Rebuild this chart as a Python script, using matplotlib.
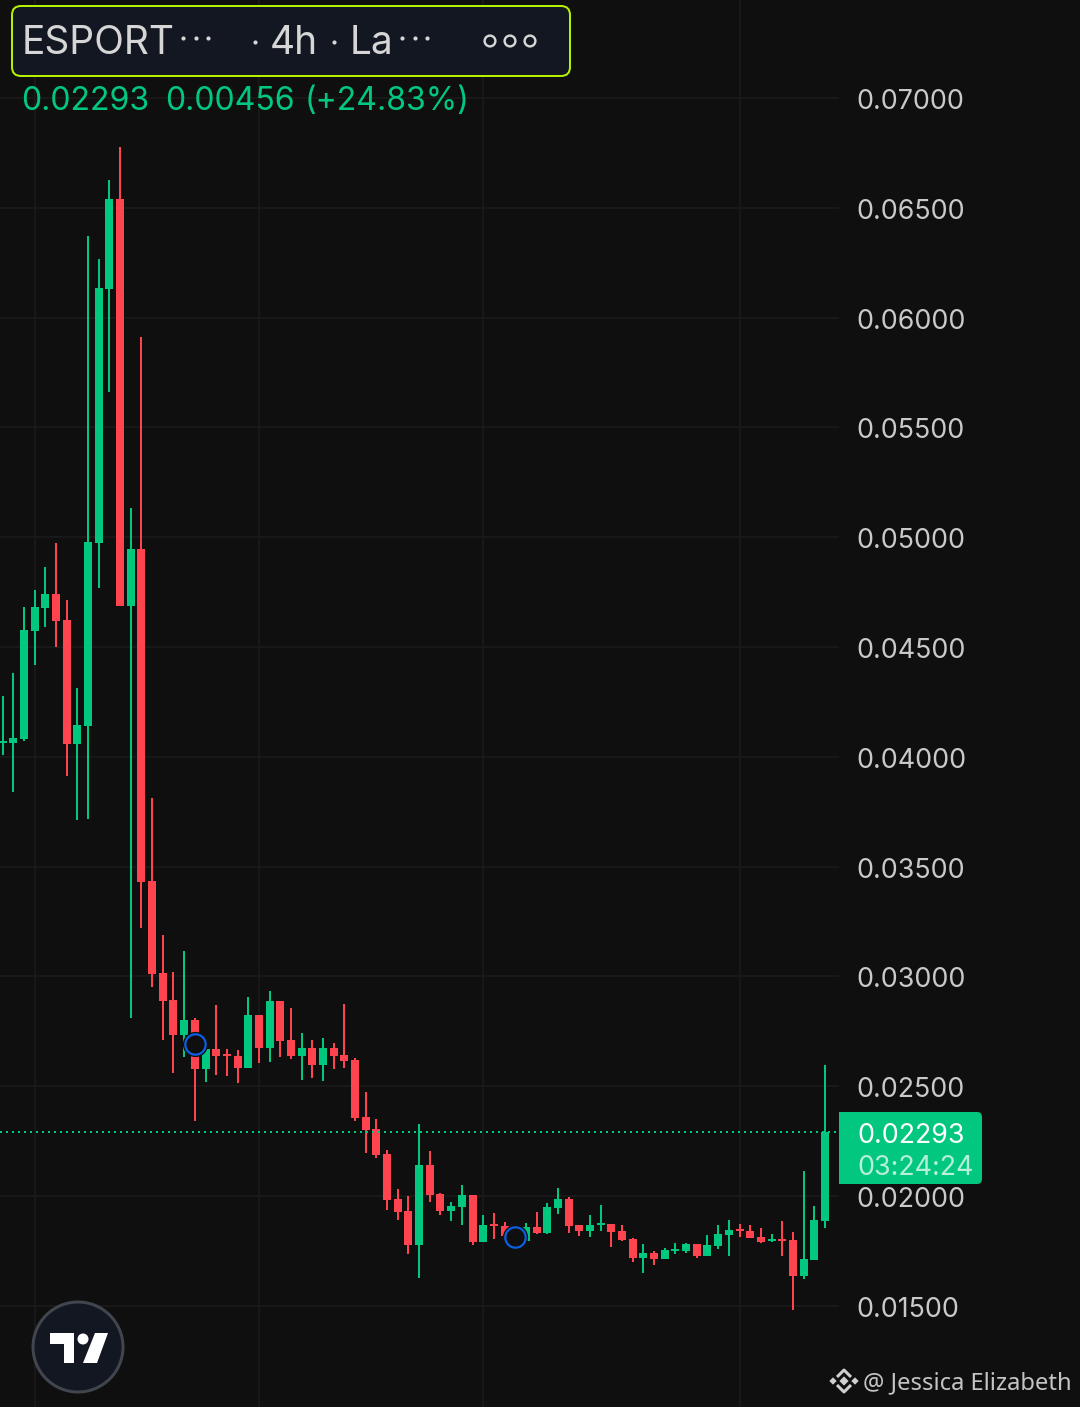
import matplotlib
matplotlib.use("Agg")
import matplotlib.pyplot as plt
from matplotlib.patches import FancyBboxPatch, Circle, Polygon, Rectangle

# candles, left to right
opens = [0.04063, 0.04063, 0.04081, 0.04573, 0.04677, 0.04741, 0.04623, 0.04058, 0.04140, 0.04973,
         0.06130, 0.06540, 0.04687, 0.04946, 0.03434, 0.03015, 0.02892, 0.02733, 0.02801, 0.02578,
         0.02669, 0.02646, 0.02637, 0.02582, 0.02824, 0.02673, 0.02887, 0.02710, 0.02637, 0.02673,
         0.02596, 0.02673, 0.02642, 0.02619, 0.02359, 0.02305, 0.02191, 0.01986, 0.01931, 0.01776,
         0.02141, 0.02009, 0.01931, 0.01949, 0.02004, 0.01790, 0.01872, 0.01863, 0.01808, 0.01794,
         0.01858, 0.01831, 0.01945, 0.01986, 0.01867, 0.01840, 0.01867, 0.01872, 0.01840, 0.01804,
         0.01717, 0.01740, 0.01713, 0.01749, 0.01749, 0.01781, 0.01726, 0.01772, 0.01822, 0.01849,
         0.01840, 0.01813, 0.01794, 0.01804, 0.01799, 0.01635, 0.01708, 0.01886]
closes = [0.04072, 0.04085, 0.04577, 0.04682, 0.04741, 0.04618, 0.04058, 0.04145, 0.04978, 0.06135,
          0.06540, 0.04687, 0.04946, 0.03430, 0.03011, 0.02887, 0.02733, 0.02801, 0.02578, 0.02669,
          0.02637, 0.02637, 0.02582, 0.02824, 0.02673, 0.02887, 0.02705, 0.02637, 0.02673, 0.02596,
          0.02673, 0.02637, 0.02614, 0.02355, 0.02300, 0.02186, 0.01981, 0.01927, 0.01776, 0.02141,
          0.02004, 0.01931, 0.01954, 0.02004, 0.01790, 0.01867, 0.01863, 0.01817, 0.01854, 0.01858,
          0.01831, 0.01949, 0.01986, 0.01863, 0.01840, 0.01867, 0.01876, 0.01835, 0.01799, 0.01717,
          0.01740, 0.01713, 0.01754, 0.01758, 0.01781, 0.01726, 0.01776, 0.01826, 0.01845, 0.01840,
          0.01808, 0.01790, 0.01804, 0.01794, 0.01635, 0.01713, 0.01890, 0.02293]
highs = [0.04277, 0.04381, 0.04682, 0.04759, 0.04864, 0.04973, 0.04714, 0.04313, 0.06372, 0.06267,
         0.06627, 0.06777, 0.05133, 0.05912, 0.03812, 0.03188, 0.03020, 0.03115, 0.02810, 0.02692,
         0.02869, 0.02669, 0.02664, 0.02906, 0.02824, 0.02933, 0.02887, 0.02856, 0.02742, 0.02710,
         0.02719, 0.02696, 0.02874, 0.02628, 0.02473, 0.02350, 0.02209, 0.02031, 0.01999, 0.02327,
         0.02204, 0.02013, 0.01972, 0.02050, 0.02004, 0.01913, 0.01922, 0.01881, 0.01863, 0.01876,
         0.01927, 0.01968, 0.02036, 0.01995, 0.01867, 0.01913, 0.01958, 0.01872, 0.01867, 0.01808,
         0.01781, 0.01749, 0.01763, 0.01785, 0.01785, 0.01781, 0.01822, 0.01867, 0.01890, 0.01872,
         0.01867, 0.01854, 0.01826, 0.01886, 0.01835, 0.02113, 0.01954, 0.02596]
lows = [0.04008, 0.03840, 0.04072, 0.04418, 0.04591, 0.04500, 0.03912, 0.03712, 0.03717, 0.04769,
        0.05661, 0.04687, 0.02810, 0.03220, 0.02951, 0.02710, 0.02560, 0.02632, 0.02341, 0.02519,
        0.02550, 0.02546, 0.02514, 0.02582, 0.02605, 0.02610, 0.02632, 0.02623, 0.02528, 0.02537,
        0.02523, 0.02578, 0.02582, 0.02341, 0.02195, 0.02172, 0.01936, 0.01890, 0.01735, 0.01626,
        0.01972, 0.01913, 0.01886, 0.01867, 0.01776, 0.01790, 0.01804, 0.01817, 0.01799, 0.01794,
        0.01826, 0.01826, 0.01917, 0.01831, 0.01817, 0.01813, 0.01840, 0.01767, 0.01794, 0.01699,
        0.01649, 0.01685, 0.01713, 0.01735, 0.01740, 0.01717, 0.01726, 0.01758, 0.01726, 0.01813,
        0.01808, 0.01785, 0.01790, 0.01726, 0.01480, 0.01621, 0.01708, 0.01854]

price_ticks = [0.07, 0.065, 0.06, 0.055, 0.05, 0.045, 0.04, 0.035, 0.03, 0.025, 0.02, 0.015, 0.01]
time_grid_idx = [3, 24, 45, 69]
marker_idx = [18, 48]
marker_price = [0.02692, 0.01813]
last_price = 0.02293

BG = "#0f0f0f"
GRID = "#181818"
GREEN = "#02c77f"
RED = "#ff444f"
LABEL = "#c9c9c9"
FONT = "Inter"
px = 0.72  # one pixel in points at dpi 100

fig = plt.figure(figsize=(10.8, 14.07), dpi=100, facecolor=BG)

ax = fig.add_axes([0, 0, 1, 1], facecolor=BG)
ax.set_xlim(-0.243, 100.88)
ax.set_ylim(0.07 - 1309 * 0.00004554, 0.07 + 98 * 0.00004554)
ax.axis("off")

right_edge = 839 / 1080
ax.hlines(price_ticks, 0, right_edge, transform=ax.get_yaxis_transform(), color=GRID, lw=2 * px, zorder=1)
ax.vlines(time_grid_idx, 0, 1, transform=ax.get_xaxis_transform(), color=GRID, lw=2 * px, zorder=1)

x = list(range(len(opens)))
colors = [GREEN if c >= o else RED for o, c in zip(opens, closes)]
ax.vlines(x, lows, highs, color=colors, lw=2 * px, zorder=3)
ax.bar(x, [abs(c - o) for o, c in zip(opens, closes)], bottom=[min(o, c) for o, c in zip(opens, closes)],
       width=8 / 10.68, color=colors, antialiased=False, zorder=3)

ax.hlines(last_price, 0, right_edge, transform=ax.get_yaxis_transform(), color=GREEN, lw=2 * px,
          linestyles=[(0, (1, 2))], zorder=4)

ax.scatter(marker_idx, marker_price, s=330, color=BG, linewidths=0, zorder=5)
ax.scatter(marker_idx, marker_price, s=215, facecolor=BG, edgecolor="#0b5fe3", linewidths=2.2 * px, zorder=6)

for p in price_ticks:
    ax.annotate("%.5f" % p, xy=(856.5 / 1080, p), xycoords=ax.get_yaxis_transform(), xytext=(0, -11),
                textcoords="offset pixels", color=LABEL, fontsize=19.3, family=FONT, va="baseline",
                ha="left", annotation_clip=False)

# overlay in pixel coordinates for the header, badge and logos
ui = fig.add_axes([0, 0, 1, 1], facecolor="none")
ui.set_xlim(0, 1080)
ui.set_ylim(1407, 0)
ui.axis("off")

ui.add_patch(FancyBboxPatch((12, 6), 558, 70, boxstyle="round,pad=0,rounding_size=9",
                            facecolor="#131722", edgecolor="#b4f000", lw=2 * px))
ui.text(22, 54, "ESPORT", color="#d6d6d6", fontsize=28, family=FONT)
ui.text(270, 54, "4h", color="#d6d6d6", fontsize=28, family=FONT)
ui.text(350, 54, "La", color="#d6d6d6", fontsize=28, family=FONT)
ui.scatter([183, 196, 208, 255, 334, 402, 415, 427], [38, 38, 38, 42, 42, 38, 38, 38], s=9, color="#d6d6d6", linewidths=0)
ui.scatter([490, 510, 530], [41, 41, 41], s=60, facecolor="none", edgecolor="#d6d6d6", linewidths=2.4 * px)

ui.text(21, 110, "0.02293", color=GREEN, fontsize=23.1, family=FONT)
ui.text(165, 110, "0.00456", color=GREEN, fontsize=23.1, family=FONT)
ui.text(305, 110, "(+24.83%)", color=GREEN, fontsize=23.1, family=FONT)

# price badge, square on the left and rounded on the right
ui.add_patch(FancyBboxPatch((839, 1112), 143, 72, boxstyle="round,pad=0,rounding_size=5", facecolor=GREEN, edgecolor="none"))
ui.add_patch(Rectangle((839, 1112), 10, 72, facecolor=GREEN, edgecolor="none"))
ui.text(857, 1143, "0.02293", color="white", fontsize=19.3, family=FONT)
ui.text(857, 1175, "03:24:24", color="#b5f0da", fontsize=19.3, family=FONT)

# tradingview badge
ui.add_patch(Circle((78, 1347), 45, facecolor="#131722", edgecolor="#41454e", lw=3 * px))
ui.add_patch(Polygon([(50, 1333), (74, 1333), (74, 1363), (64, 1363), (64, 1344), (50, 1344)], facecolor="white", edgecolor="none"))
ui.add_patch(Polygon([(95, 1333), (108, 1333), (97, 1363), (83, 1363)], facecolor="white", edgecolor="none"))
ui.add_patch(Circle((83, 1339), 5.5, facecolor="white", edgecolor="none"))

# watermark
ui.plot([837, 844, 851], [1377, 1370, 1377], color="#d0d0d0", lw=3 * px, solid_capstyle="butt")
ui.plot([837, 844, 851], [1385, 1392, 1385], color="#d0d0d0", lw=3 * px, solid_capstyle="butt")
ui.scatter([833, 855, 844], [1381, 1381, 1381], marker="D", s=[14, 14, 22], color="#d0d0d0", linewidths=0)
ui.text(863, 1389, "@ Jessica Elizabeth", color="#c4c4c4", fontsize=17.1, family="Noto Sans")

fig.savefig("out.png", dpi=100, facecolor=BG)
